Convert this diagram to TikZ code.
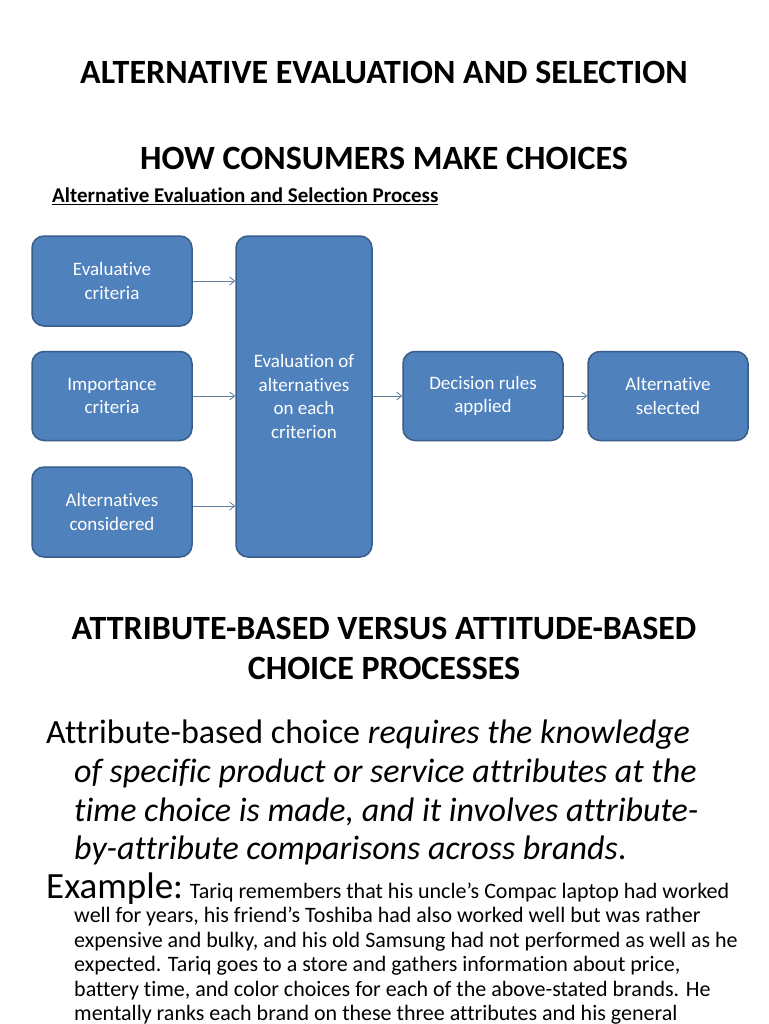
\documentclass[tikz,border=0pt]{standalone}
\usepackage{fontspec}
\setmainfont[Ligatures=NoCommon]{Carlito}
\usetikzlibrary{arrows.meta}
\definecolor{boxfill}{HTML}{4F81BD}
\definecolor{boxline}{HTML}{385D8A}
\begin{document}
\begin{tikzpicture}[x=1pt,y=-1pt,
  bx/.style={draw=boxline,line width=1.5pt,fill=boxfill,rounded corners=12pt,text=white,font=\fontsize{19}{23.5}\selectfont,align=center},
  arr/.style={draw=boxline!80!white,line width=0.8pt,-{Straight Barb[length=5pt,width=8pt]}},
  ttl/.style={font=\bfseries\fontsize{34}{40}\selectfont,inner sep=0pt},
  ln/.style={anchor=base west,inner sep=0pt}]
\useasboundingbox[fill=white] (0,0) rectangle (768,1024);
\node[ttl] (t1) at (384,72) {ALTERNATIVE EVALUATION AND SELECTION};
\node[ttl] (t2) at (384,158) {HOW CONSUMERS MAKE CHOICES};
\node[anchor=west,inner sep=0pt,font=\bfseries\fontsize{21}{24}\selectfont] (st) at (52,196) {\underline{Alternative Evaluation and Selection Process}};
\node[bx,minimum width=160,minimum height=90] (b1) at (112,281) {Evaluative\\criteria};
\node[bx,minimum width=160,minimum height=89] (b2) at (112,396) {Importance\\criteria};
\node[bx,minimum width=160,minimum height=90] (b3) at (112,512) {Alternatives\\considered};
\node[bx,minimum width=136,minimum height=321] (big) at (304,396.5) {Evaluation of\\alternatives\\on each\\criterion};
\node[bx,minimum width=160,minimum height=89] (dr) at (483,396) {Decision rules\\applied};
\node[bx,minimum width=160,minimum height=89] (as) at (668,396) {Alternative\\selected};
\draw[arr] (b1.east) -- (b1.east -| big.west);
\draw[arr] (b2.east) -- (b2.east -| big.west);
\draw[arr] ([yshift=6]b3.east) -- ([yshift=6]b3.east -| big.west);
\draw[arr] (big.east |- dr.west) -- (dr.west);
\draw[arr] (dr.east) -- (as.west);
\node[ttl] (t3) at (384,628) {ATTRIBUTE-BASED VERSUS ATTITUDE-BASED};
\node[ttl] (t4) at (384,668) {CHOICE PROCESSES};
\begin{scope}[font=\fontsize{34}{38}\selectfont]
\node[ln] (p1) at (46,743) {Attribute-based choice \itshape requires the knowledge};
\node[ln] (p2) at (74,782) {\itshape of specific product or service attributes at the};
\node[ln] (p3) at (74,821) {\itshape time choice is made, and it involves attribute-};
\node[ln] (p4) at (74,859) {\itshape by-attribute comparisons across brands\upshape .};
\end{scope}
\begin{scope}[font=\fontsize{22}{26}\selectfont]
\node[ln] (e1) at (46,898) {{\fontsize{37}{37}\selectfont Example:} Tariq remembers that his uncle’s Compac laptop had worked};
\node[ln] (e2) at (74,922.5) {well for years, his friend’s Toshiba had also worked well but was rather};
\node[ln] (e3) at (74,947) {expensive and bulky, and his old Samsung had not performed as well as he};
\node[ln] (e4) at (74,971.5) {expected. Tariq goes to a store and gathers information about price,};
\node[ln] (e5) at (74,996) {battery time, and color choices for each of the above-stated brands. He};
\node[ln] (e6) at (74,1020) {mentally ranks each brand on these three attributes and his general};
\end{scope}
\end{tikzpicture}
\end{document}
